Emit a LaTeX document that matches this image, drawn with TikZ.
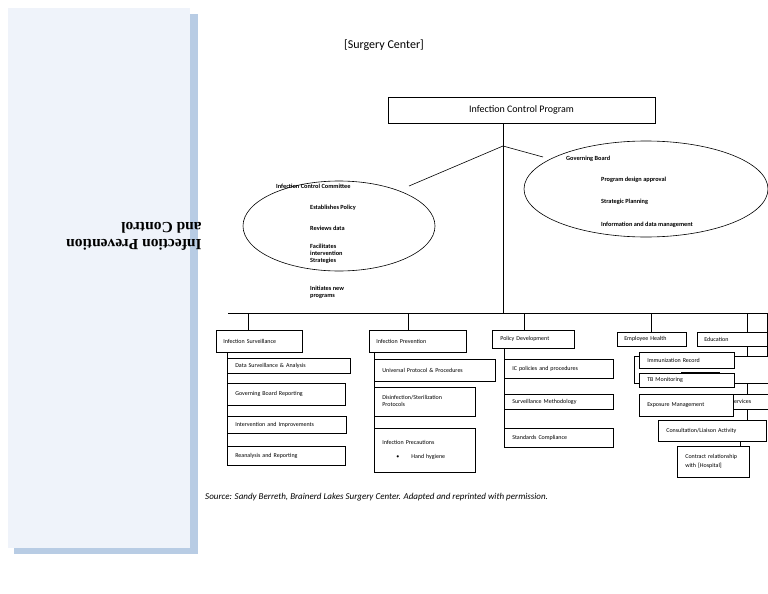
\documentclass[tikz,border=0pt]{standalone}
\usetikzlibrary{shapes.geometric}
\usepackage{fontspec}
\setmainfont{Carlito}
\newfontfamily\serifb{Liberation Serif}
\begin{document}
\begin{tikzpicture}[x=1pt,y=-1pt,
  bx/.style={draw=black,line width=0.6pt,fill=white,font=\fontsize{6}{7}\selectfont,align=left,anchor=north west,inner sep=0pt},
  ln/.style={line width=0.6pt},
  et/.style={font=\bfseries\fontsize{6.3}{7}\selectfont,anchor=west,inner sep=0pt}]
\useasboundingbox (0,0) rectangle (768,594);
% sidebar
\fill[fill={rgb,255:red,184;green,204;blue,228}] (14,14) rectangle (198,554);
\fill[fill={rgb,255:red,239;green,243;blue,250}] (8,8) rectangle (190,548);
\node[rotate=180,align=left,font=\serifb\bfseries\fontsize{15.5}{17}\selectfont,inner sep=0pt] (side) at (134,236) {Infection Prevention\\and Control};
% title
\node[font=\fontsize{12}{14}\selectfont] (sc) at (384,45) {[Surgery Center]};
\node[draw,line width=0.6pt,minimum width=267,minimum height=26,inner sep=0pt,font=\fontsize{10}{12}\selectfont] (icp) at (521.5,110) {Infection Control Program};
\coordinate (j) at (503,146);
\coordinate (hb) at (503,313);
\draw[ln] (icp.south -| j) -- (hb);
% ellipses
\node[draw,ellipse,line width=0.6pt,minimum width=192,minimum height=90,inner sep=0pt] (icc) at (339,226) {};
\node[draw,ellipse,line width=0.6pt,minimum width=244,minimum height=96,inner sep=0pt] (gb) at (646,189) {};
\draw[ln] (j) -- (409,186);
\draw[ln] (j) -- (543,157);
\node[et] (t1) at (276,186) {Infection Control Committee};
\node[et] (t2) at (310,208) {Establishes Policy};
\node[et] (t3) at (310,228) {Reviews data};
\node[et,align=left,anchor=north west] (t4) at (310,244) {Facilitates\\intervention\\Strategies};
\node[et,align=left,anchor=north west] (t5) at (310,286) {Initiates new\\programs};
\node[et] (g1) at (566,159) {Governing Board};
\node[et] (g2) at (601,180) {Program design approval};
\node[et] (g3) at (601,202) {Strategic Planning};
\node[et] (g4) at (601,225) {Information and data management};
% bar
\coordinate (bl) at (228,313);
\coordinate (br) at (768,313);
\draw[ln] (bl) -- (br);
% level boxes
\node[bx,text width=86,minimum height=22,anchor=north west] (is) at (216,330) {\hspace{7pt}Infection Surveillance};
\node[bx,text width=97,minimum height=22] (ip) at (369,330) {\hspace{7pt}Infection Prevention};
\node[bx,text width=82,minimum height=18] (pd) at (492,330) {\hspace{8pt}Policy Development};
\node[bx,text width=69,minimum height=14] (eh) at (617,332) {\hspace{7pt}Employee Health};
\node[bx,text width=70,minimum height=14] (ed) at (697,332) {\hspace{7pt}Education};
\draw[ln] (248,313) -- (248,330);
\draw[ln] (408,313) -- (408,330);
\draw[ln] (524,313) -- (524,330);
\draw[ln] (651,313) -- (651,332);
\draw[ln] (747,313) -- (747,332);
\draw[ln] (767.5,313) -- (767.5,383);
% IS children
\draw[ln] (227,352) -- (227,456);
\node[bx,text width=123,minimum height=15] (is1) at (227,358) {\hspace{8pt}Data Surveillance \& Analysis};
\node[bx,text width=118,minimum height=22] (is2) at (227,383) {\hspace{8pt}Governing Board Reporting};
\node[bx,text width=119,minimum height=17] (is3) at (227,416) {\hspace{8pt}Intervention and Improvements};
\node[bx,text width=118,minimum height=19] (is4) at (227,446) {\hspace{8pt}Reanalysis and Reporting};
% IP children
\draw[ln] (374,352) -- (374,440);
\node[bx,text width=121,minimum height=22] (ip1) at (374,359) {\hspace{8pt}Universal Protocol \& Procedures};
\node[bx,text width=101,minimum height=29] (ip2) at (374,387) {\hspace{8pt}\begin{tabular}{@{}l@{}}Disinfection/Sterilization\\Protocols\end{tabular}};
\node[bx,text width=101,minimum height=44] (ip3) at (374,428) {\hspace{8pt}\begin{tabular}{@{}l@{}}Infection Precautions\\[7pt]\hspace{14pt}\textbullet\hspace{12pt}Hand hygiene\end{tabular}};
% PD children
\draw[ln] (504,348) -- (504,437);
\node[bx,text width=109,minimum height=19] (pd1) at (504,359) {\hspace{8pt}IC policies and procedures};
\node[bx,text width=109,minimum height=15] (pd2) at (504,394) {\hspace{8pt}Surveillance Methodology};
\node[bx,text width=109,minimum height=19] (pd3) at (504,428) {\hspace{8pt}Standards Compliance};
% EH / Education overlapping
\draw[ln] (747,346) -- (747,420);
\node[bx,text width=134,minimum height=27] (hid1) at (634,356) {};
\node[bx,text width=128,minimum height=15] (hid2) at (640,394) {\hspace{91pt}Services};
\node[bx,text width=95,minimum height=16] (eh1) at (639,352) {\hspace{8pt}Immunization Record};
\draw[ln] (681,372) -- (720,372);
\node[bx,text width=95,minimum height=14] (eh2) at (639,373) {\hspace{8pt}TB Monitoring};
\node[bx,text width=94,minimum height=22] (eh3) at (639,394) {\hspace{8pt}Exposure Management};
\node[bx,text width=108,minimum height=21] (ed1) at (658,420) {\hspace{8pt}Consultation/Liaison Activity};
\node[bx,text width=72,minimum height=31] (ed2) at (677,446) {\hspace{8pt}\begin{tabular}{@{}l@{}}Contract relationship\\[2pt]with [Hospital]\end{tabular}};
\draw[ln] (740,441) -- (740,446);
% source
\node[anchor=west,inner sep=0pt,font=\itshape\fontsize{9}{11}\selectfont] (src) at (205,497) {Source: Sandy Berreth, Brainerd Lakes Surgery Center. Adapted and reprinted with permission.};
\end{tikzpicture}
\end{document}
